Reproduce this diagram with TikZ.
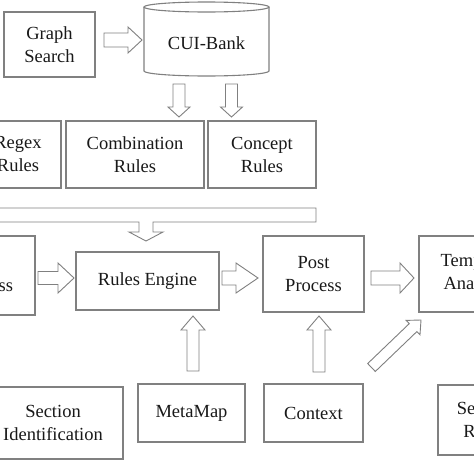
\documentclass[tikz,border=0pt]{standalone}
\usepackage{fontspec}
\setmainfont{Liberation Serif}
\usetikzlibrary{calc}
\definecolor{boxgray}{RGB}{128,128,128}
\newcommand\blockarrow[5]{% start, end, shaft half-width, head half-width, head length
  \coordinate (ba-h) at ($(#2)!#5!(#1)$);
  \draw[barrow] ($(#1)!#3!90:(#2)$) -- ($(ba-h)!#3!90:(#2)$) -- ($(ba-h)!#4!90:(#2)$) -- (#2)
    -- ($(ba-h)!#4!-90:(#2)$) -- ($(ba-h)!#3!-90:(#2)$) -- ($(#1)!#3!-90:(#2)$) -- cycle;
}
\tikzset{
  lab/.style={font=\fontsize{18.5}{23}\selectfont, text=black!90, align=center},
  box/.style={lab, draw=boxgray, line width=1.1pt, fill=white, inner sep=0pt},
  barrow/.style={draw=boxgray, line width=0.9pt, fill=white, line join=miter},
}
\begin{document}
\begin{tikzpicture}[x=1pt,y=-1pt]
\useasboundingbox (0,0) rectangle (474,474);
\fill[white] (0,0) rectangle (474,474);
\clip (0,0) rectangle (474,474);

% top row
\node[box, minimum width=91pt, minimum height=65pt] (gs) at (49.5,44.5) {Graph\\Search};
\draw[draw=boxgray, line width=1.1pt, fill=white] (144,7) -- (144,71) arc[start angle=180, end angle=360, x radius=62.5pt, y radius=5pt] -- (269,7);
\draw[draw=boxgray, line width=1.1pt, fill=white] (206.5,7) ellipse [x radius=62.5pt, y radius=5pt];
\node[lab] (cui) at (206.5,43) {CUI-Bank};

% rules row
\node[box, minimum width=86pt, minimum height=67pt] (regex) at (18,154.5) {Regex\\Rules};
\node[box, minimum width=138pt, minimum height=67pt] (comb) at (135,154.5) {Combination\\Rules};
\node[box, minimum width=108pt, minimum height=67pt] (conc) at (262,154.5) {Concept\\Rules};

% main row
\node[box, minimum width=124pt, minimum height=79pt] (pre) at (-27,275.5) {Text\\Preprocess};
\node[box, minimum width=143pt, minimum height=58pt] (re) at (147.5,281) {Rules Engine};
\node[box, minimum width=101pt, minimum height=76pt] (pp) at (313.5,274) {Post\\Process};
\node[box, minimum width=114pt, minimum height=76pt] (ta) at (476,274) {Temporal\\Analysis};

% bottom row
\node[box, minimum width=140pt, minimum height=72pt] (si) at (53,423) {Section\\Identification};
\node[box, minimum width=107pt, minimum height=58pt] (mm) at (191.5,413) {MetaMap};
\node[box, minimum width=99pt, minimum height=58pt] (ctx) at (313.5,413) {Context};
\node[box, minimum width=93pt, minimum height=70pt] (sr) at (484.5,420) {Section\\Rules};

% arrow end points
\coordinate (a1s) at (104,40);   \coordinate (a1e) at (142,40);
\coordinate (d1s) at (179,84);   \coordinate (d1e) at (179,117);
\coordinate (d2s) at (231.5,84); \coordinate (d2e) at (231.5,117);
\coordinate (h1s) at (38,278);   \coordinate (h1e) at (74,278);
\coordinate (h2s) at (222,278);  \coordinate (h2e) at (258,278);
\coordinate (h3s) at (371,278);  \coordinate (h3e) at (414,278);
\coordinate (u1s) at (193,371);  \coordinate (u1e) at (193,316);
\coordinate (u2s) at (319,372);  \coordinate (u2e) at (319,316);
\coordinate (dgs) at (371.5,367.5); \coordinate (dge) at (421,320);

\blockarrow{a1s}{a1e}{7pt}{13pt}{14pt}
\blockarrow{d1s}{d1e}{6pt}{11pt}{10pt}
\blockarrow{d2s}{d2e}{6pt}{11pt}{10pt}
\blockarrow{h1s}{h1e}{6.5pt}{15pt}{16pt}
\blockarrow{h2s}{h2e}{7pt}{15pt}{22pt}
\blockarrow{h3s}{h3e}{7pt}{15pt}{14pt}
\blockarrow{u1s}{u1e}{6pt}{12pt}{14pt}
\blockarrow{u2s}{u2e}{6pt}{12pt}{14pt}
\blockarrow{dgs}{dge}{5.5pt}{10pt}{11pt}

% collecting bar into the rules engine
\coordinate (bartip) at (146,241);
\draw[barrow] (-5,208) -- (316,208) -- (316,222) -- (153,222) -- (153,232) -- (163,232) -- (bartip)
  -- (129,232) -- (139,232) -- (139,222) -- (-5,222) -- cycle;
\end{tikzpicture}
\end{document}
